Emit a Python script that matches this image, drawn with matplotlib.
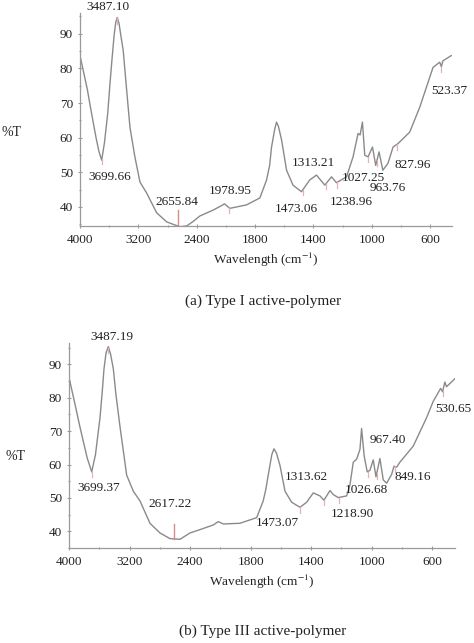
import numpy as np
import matplotlib
matplotlib.use("Agg")
import matplotlib.pyplot as plt

plt.rcParams['font.family'] = ['Liberation Serif', 'DejaVu Serif']
plt.rcParams['mathtext.fontset'] = 'stix'

# ---- data ----
wn_a = [4000, 3900, 3850, 3780, 3740, 3703, 3665, 3620, 3589, 3560, 3530, 3510,
        3489, 3465, 3440, 3407, 3370, 3315, 3247, 3178, 3086, 2949,
        2812, 2700, 2630, 2538, 2450, 2356, 2174, 2041, 2020, 1973, 1858, 1767,
        1721, 1700, 1687, 1665, 1653, 1640, 1618, 1584, 1540, 1482, 1425, 1379,
        1322, 1276, 1242, 1173, 1128, 1094, 1080, 1064, 1048, 1025, 995, 973, 950,
        924, 889, 854, 820, 740, 671, 580, 534, 523, 512, 455]
T_a = [83.7, 74.0, 68.0, 60.0, 56.0, 53.5, 58.5, 67.0, 75.6, 83.0, 90.0, 93.3,
       94.7, 93.0, 89.5, 85.1, 76.0, 63.0, 54.4, 47.2, 44.0, 38.3,
       35.7, 34.8, 34.3, 34.5, 35.8, 37.4, 39.1, 40.6, 40.9, 39.6, 40.6, 42.6,
       47.8, 52.0, 57.3, 62.5, 64.5, 63.3, 59.3, 50.6, 46.3, 44.4, 47.8, 49.2,
       46.3, 48.7, 47.0, 48.7, 54.5, 61.2, 60.8, 64.5, 54.9, 54.5, 57.3, 52.0, 55.9,
       50.6, 52.6, 57.3, 58.3, 61.6, 68.8, 80.3, 81.8, 80.5, 82.2, 83.7]

wn_b = [3996, 3920, 3855, 3760, 3700, 3650, 3590, 3560, 3538, 3510, 3480, 3450,
        3414, 3380, 3326, 3238, 3150, 3062, 2930,
        2798, 2666, 2534, 2402, 2270, 2094, 2028, 1981, 1871, 1760, 1717, 1700,
        1684, 1660, 1646, 1630, 1606, 1573, 1529, 1474, 1430, 1386, 1342, 1316,
        1276, 1254, 1221, 1166, 1144, 1122, 1100, 1078, 1067, 1050, 1030, 1012,
        990, 972, 946, 924, 902, 869, 853, 836, 814, 726, 637, 594, 545, 532, 517,
        506, 451]
T_b = [85.7, 78.0, 71.2, 62.0, 57.8, 63.0, 74.1, 82.0, 88.6, 93.5, 95.3, 93.0,
       88.6, 81.0, 71.3, 56.8, 52.0, 49.1, 42.4,
       39.5, 37.8, 37.6, 39.5, 40.5, 41.9, 42.9, 42.2, 42.4, 44.1, 49.1, 52.5,
       56.8, 63.0, 64.7, 63.5, 59.7, 52.0, 48.7, 47.2, 48.7, 51.5, 50.6, 49.3,
       52.2, 51.0, 50.1, 50.6, 53.9, 60.7, 61.6, 64.5, 70.8, 62.6, 57.8, 58.3,
       61.4, 56.3, 61.8, 55.4, 54.4, 57.0, 59.5, 59.2, 60.7, 65.5, 74.1, 78.9,
       82.8, 81.8, 84.7, 83.3, 85.7]

# peak labels: wavenumber, text position (wn, %T)
peaks_a = [3487.10, 3699.66, 2655.84, 1978.95, 1313.21, 1473.06, 1238.96,
           1027.25, 963.76, 827.96, 523.37]
lab_a = [(3616, 97.6), (3589, 48.6), (2675, 41.5), (1973, 44.7), (1402, 52.6),
         (1516, 39.3), (1141, 41.5), (1060, 48.4), (889, 45.4), (718, 52.0),
         (466, 73.6)]

peaks_b = [3487.19, 3699.37, 2617.22, 1473.07, 1313.62, 1218.90, 1026.68,
           967.40, 849.16, 530.65]
lab_b = [(3436, 98.2), (3613, 53.0), (2666, 48.2), (1626, 42.4), (1430, 56.2),
         (1126, 45.3), (1038, 52.3), (891, 67.2), (726, 56.2), (458, 76.5)]

xticks = [4000, 3200, 2400, 1800, 1400, 1000, 600]
xminor = [3600, 2800, 2000, 1600, 1200, 800]
yticks = [40, 50, 60, 70, 80, 90]


# usual FTIR axis: scale doubles below 2000 cm-1
def fwd(w):
    w = np.asarray(w, dtype=float)
    return np.where(w >= 2000, w, 2 * w - 2000)


def inv(y):
    y = np.asarray(y, dtype=float)
    return np.where(y >= 2000, y, (y + 2000) / 2)


def draw_panel(ax, wn, T, peaks, labels, ylim, big_mark):
    ax.set_xscale('function', functions=(fwd, inv))
    ax.plot(wn, T, color='#8a8a8a', lw=1.0)
    wn_r, T_r = np.array(wn[::-1]), np.array(T[::-1])
    for p, (tx, ty) in zip(peaks, labels):
        yv = np.interp(p, wn_r, T_r)
        if p == big_mark:
            ax.plot([p, p], [yv, yv + 4.5], color='#d98a8a', lw=1.0)
        else:
            ax.plot([p, p], [yv - 1.6, yv], color='#e8b0b0', lw=0.9)
        ax.text(tx, ty, "%.2f" % p, ha='center', va='center', fontsize=9.5,
                color='#222222', clip_on=False)
    ax.set_xlim(4000, 450)
    ax.set_ylim(*ylim)
    ax.set_xticks(xticks)
    ax.set_xticks(xminor, minor=True)
    ax.set_yticks(yticks)
    ax.set_yticks([35, 45, 55, 65, 75, 85, 95], minor=True)
    for s in ['top', 'right']:
        ax.spines[s].set_visible(False)
    for s in ['left', 'bottom']:
        ax.spines[s].set_color('#9a9a9a')
        ax.spines[s].set_linewidth(0.9)
    ax.tick_params(which='both', direction='inout', color='#9a9a9a',
                   labelsize=9.5, labelcolor='#222222', width=0.8)
    ax.tick_params(which='major', length=3)
    ax.tick_params(which='minor', length=2)
    ax.tick_params(axis='x', pad=4)
    ax.set_xlabel("Wavelength (cm$^{-1}$)", fontsize=9.5, color='#222222', labelpad=4)


W, H = 474, 643
fig = plt.figure(figsize=(W / 100, H / 100), dpi=100)

ax1 = fig.add_axes([80 / W, 1 - 226 / H, 372 / W, 213 / H])
draw_panel(ax1, wn_a, T_a, peaks_a, lab_a, (34.5, 96), 2655.84)
fig.text(12 / W, 1 - 132 / H, "%T", fontsize=10, ha='center', va='center', color='#222222')
fig.text(263 / W, 1 - 301 / H, "(a) Type I active-polymer", fontsize=11,
         ha='center', va='center', color='#222222')

ax2 = fig.add_axes([69 / W, 1 - 548 / H, 386 / W, 205 / H])
draw_panel(ax2, wn_b, T_b, peaks_b, lab_b, (37.1, 96.4), 2617.22)
fig.text(15 / W, 1 - 457 / H, "%T", fontsize=10, ha='center', va='center', color='#222222')
fig.text(263 / W, 1 - 631 / H, "(b) Type III active-polymer", fontsize=11,
         ha='center', va='center', color='#222222')

fig.savefig("out.png", dpi=100)
